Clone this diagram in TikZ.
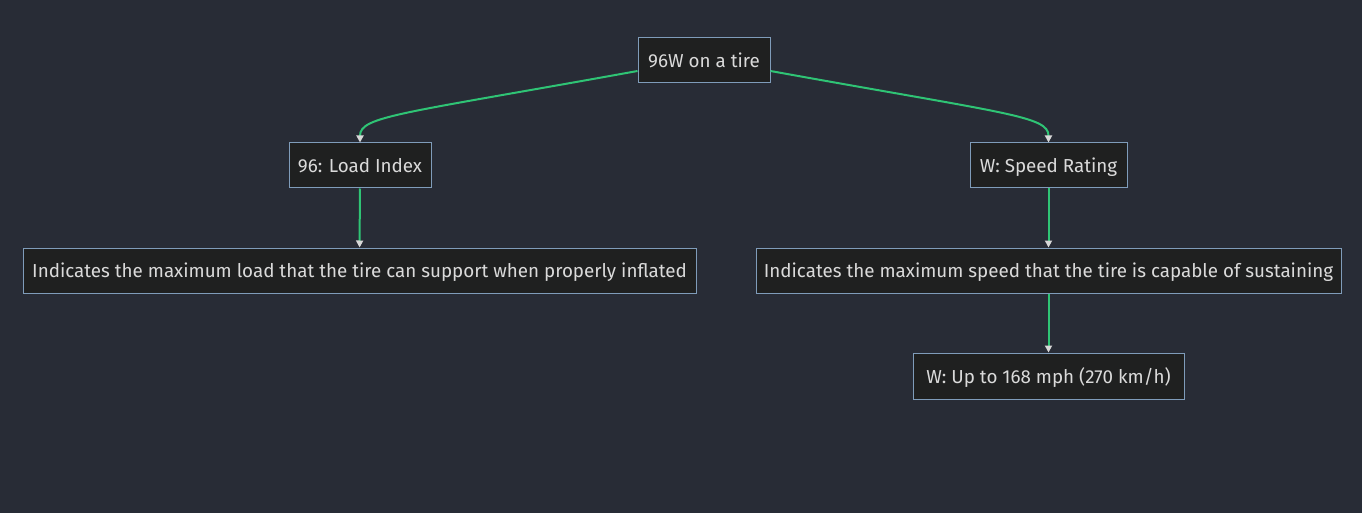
\documentclass[tikz,border=0pt]{standalone}
\usepackage{fontspec}
\setmainfont{Fira Sans}
\usetikzlibrary{arrows.meta}
\definecolor{bgc}{HTML}{282C36}
\definecolor{boxfill}{HTML}{1F2020}
\definecolor{boxline}{HTML}{7F9CBA}
\definecolor{txt}{HTML}{DADADA}
\definecolor{edge}{HTML}{2FC475}
\definecolor{tipc}{HTML}{D8D8D8}
\tikzset{
  nbox/.style={draw=boxline, fill=boxfill, line width=1pt, text=txt, inner sep=0pt,
    minimum height=45pt, text height=17pt, text depth=3pt, font=\fontsize{18.8}{22}\selectfont},
  link/.style={draw=edge, line width=2pt, -{Triangle[length=7pt,width=7pt,color=tipc]}},
}
\begin{document}
\begin{tikzpicture}[x=1pt,y=-1pt]
\useasboundingbox[fill=bgc] (0,0) rectangle (1362,513);
\node[nbox, minimum width=132pt] (top) at (704,60.5) {96W on a tire};
\node[nbox, minimum width=142pt] (load) at (360,165.5) {96: Load Index};
\node[nbox, minimum width=157pt] (speed) at (1048.5,165.5) {W: Speed Rating};
\node[nbox, minimum width=673pt] (loaddesc) at (359.5,270.5) {Indicates the maximum load that the tire can support when properly inflated};
\node[nbox, minimum width=585pt] (speeddesc) at (1048.5,270.5) {Indicates the maximum speed that the tire is capable of sustaining};
\node[nbox, minimum width=271pt, minimum height=46pt] (wspeed) at (1048.5,376) {W: Up to 168 mph (270 km/h)};
\coordinate (tl) at ([yshift=-10.5pt]top.west);
\coordinate (tr) at ([yshift=-10.5pt]top.east);
\draw[link] (tl) .. controls (400,114) and (360,116) .. (load.north);
\draw[link] (tr) .. controls (1008,114) and (1048.5,116) .. (speed.north);
\draw[link] (load) -- (loaddesc);
\draw[link] (speed) -- (speeddesc);
\draw[link] (speeddesc) -- (wspeed);
\end{tikzpicture}
\end{document}
